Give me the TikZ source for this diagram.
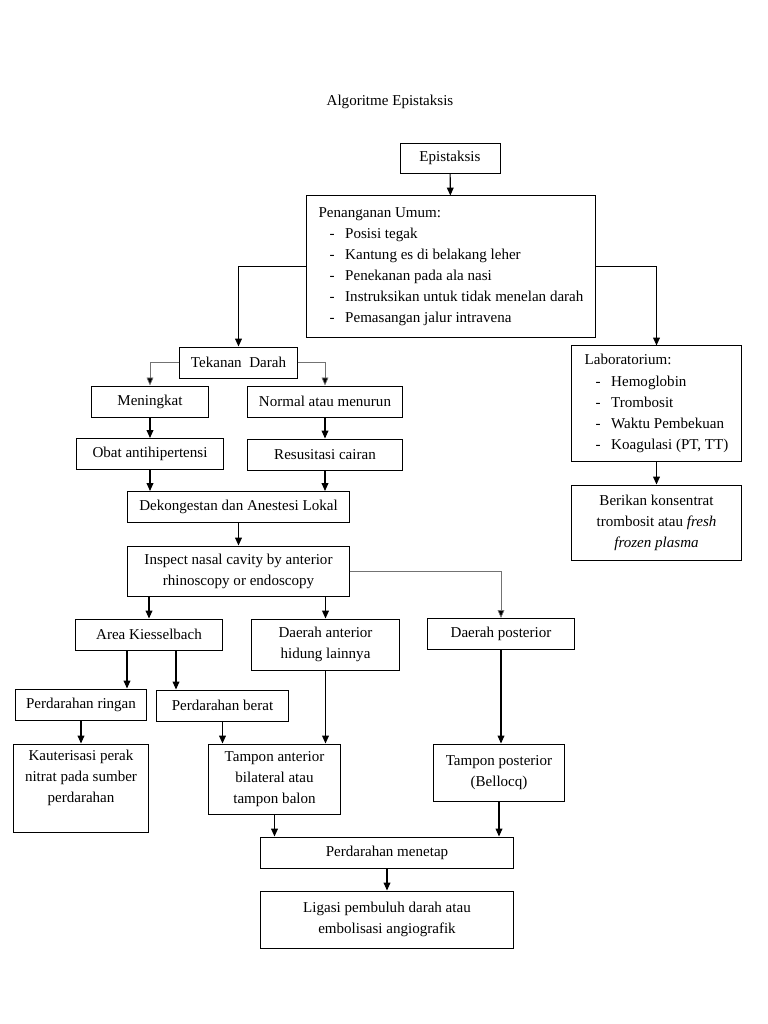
\documentclass[tikz,border=0pt]{standalone}
\usepackage{fontspec}
\setmainfont{Liberation Serif}
\usepackage{tikz}
\usetikzlibrary{arrows.meta}

\newcommand{\dashitem}[1]{\hspace*{0.275cm}\makebox[0.39cm][l]{-}#1}

\begin{document}
\begin{tikzpicture}[
		x=0.025cm, y=-0.025cm,
		font=\fontsize{10.7}{15}\selectfont,
		proc/.style={draw, line width=0.7pt, inner sep=0pt, minimum height=0.775cm, align=center},
		flow/.style={-{Triangle[width=4.8pt,length=5.6pt]}, line width=0.8pt},
		grayflow/.style={flow, draw=black!55, line width=0.5pt, -{Triangle[width=4.8pt,length=5.6pt,fill=black]}}
		]
		
		\useasboundingbox (0,0) rectangle (768,1024);
		
		% Title
		\node (title) at (390,102) {Algoritme Epistaksis};
		
		% Top
		\node[proc, minimum width=2.5cm, minimum height=0.75cm] (epi) at (450,158) {Epistaksis};
		\node[proc, minimum width=7.2cm, minimum height=3.525cm, align=left] (umum) at (451,266.5) {
			Penanganan Umum:\\
			\dashitem{Posisi tegak}\\
			\dashitem{Kantung es di belakang leher}\\
			\dashitem{Penekanan pada ala nasi}\\
			\dashitem{Instruksikan untuk tidak menelan darah}\\
			\dashitem{Pemasangan jalur intravena}
		};
		
		% Laboratory branch
		\node[proc, minimum width=4.225cm, minimum height=2.875cm, align=left] (lab) at (656.5,403.5) {
			Laboratorium:\\
			\dashitem{Hemoglobin}\\
			\dashitem{Trombosit}\\
			\dashitem{Waktu Pembekuan}\\
			\dashitem{Koagulasi (PT, TT)}
		};
		\node[proc, minimum width=4.225cm, minimum height=1.875cm] (berikan) at (656.5,522.5)
		{Berikan konsentrat\\trombosit atau \textit{fresh}\\\textit{frozen plasma}};
		
		% Blood pressure
		\node[proc, minimum width=2.925cm] (tekanan) at (238.5,362.5) {Tekanan\ \ Darah};
		\node[proc, minimum width=2.9cm] (meningkat) at (150,401.5) {Meningkat};
		\node[proc, minimum width=3.85cm] (normal) at (325,401.5) {Normal atau menurun};
		\node[proc, minimum width=3.65cm] (obat) at (150,454) {Obat antihipertensi};
		\node[proc, minimum width=3.85cm] (resus) at (325,454.5) {Resusitasi cairan};
		\node[proc, minimum width=5.525cm] (dekong) at (238.5,507) {Dekongestan dan Anestesi Lokal};
		\node[proc, minimum width=5.525cm, minimum height=1.25cm] (inspect) at (238.5,571)
		{Inspect nasal cavity by anterior\\rhinoscopy or endoscopy};
		
		% Bleeding site
		\node[proc, minimum width=3.65cm] (kiessel) at (149,634.5) {Area Kiesselbach};
		\node[proc, minimum width=3.675cm, minimum height=1.275cm] (anterior) at (325.5,644.5)
		{Daerah anterior\\hidung lainnya};
		\node[proc, minimum width=3.65cm] (posterior) at (501,634) {Daerah posterior};
		\node[proc, minimum width=3.25cm] (ringan) at (81,704.5) {Perdarahan ringan};
		\node[proc, minimum width=3.275cm] (berat) at (222.5,705.5) {Perdarahan berat};
		
		% Treatment
		\node[proc, minimum width=3.35cm, minimum height=2.2cm] (kauter) at (81,788)
		{Kauterisasi perak\\nitrat pada sumber\\perdarahan\\[-3pt]\strut};
		\node[proc, minimum width=3.275cm, minimum height=1.75cm] (tamant) at (274.5,779)
		{Tampon anterior\\bilateral atau\\tampon balon};
		\node[proc, minimum width=3.25cm, minimum height=1.425cm] (tampost) at (499,772.5)
		{Tampon posterior\\(Bellocq)};
		\node[proc, minimum width=6.3cm] (menetap) at (387,852.5) {Perdarahan menetap};
		\node[proc, minimum width=6.3cm, minimum height=1.425cm] (ligasi) at (387,919.5)
		{Ligasi pembuluh darah atau\\embolisasi angiografik};
		
		% Connectors
		\draw[flow] (epi) -- (umum);
		\draw[flow] (umum.west) -| (tekanan.north);
		\draw[flow] (umum.east) -| (lab.north);
		\draw[flow] (lab) -- (berikan);
		\draw[grayflow] (tekanan.west) -| (meningkat.north);
		\draw[grayflow] (tekanan.east) -| (normal.north);
		\draw[flow] (meningkat) -- (obat);
		\draw[flow] (normal) -- (resus);
		\draw[flow] (obat.south) -- (obat.south |- dekong.north);
		\draw[flow] (resus.south) -- (resus.south |- dekong.north);
		\draw[flow] (dekong) -- (inspect);
		\draw[flow] (inspect.south -| kiessel.north) -- (kiessel.north);
		\draw[flow] (inspect.south -| anterior.north) -- (anterior.north);
		\draw[grayflow] (inspect.east) -| (posterior.north);
		\draw[flow] ([xshift=-0.55cm]kiessel.south) -- ([xshift=-0.55cm]kiessel.south |- ringan.north);
		\draw[flow] ([xshift=0.675cm]kiessel.south) -- ([xshift=0.675cm]kiessel.south |- berat.north);
		\draw[flow] (ringan) -- (kauter);
		\draw[flow] (berat.south) -- (berat.south |- tamant.north);
		\draw[flow] (anterior.south) -- (anterior.south |- tamant.north);
		\draw[flow] (posterior.south) -- (posterior.south |- tampost.north);
		\draw[flow] (tamant.south) -- (tamant.south |- menetap.north);
		\draw[flow] (tampost.south) -- (tampost.south |- menetap.north);
		\draw[flow] (menetap) -- (ligasi);
		
	\end{tikzpicture}
\end{document}
